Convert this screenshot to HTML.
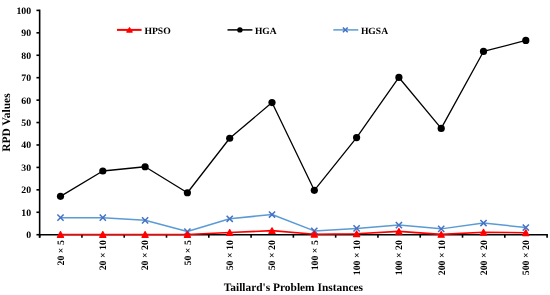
<!DOCTYPE html><html><head><meta charset="utf-8"><style>html,body{margin:0;padding:0;background:#fff;}svg{display:block;}text{font-family:"Liberation Serif", "Times New Roman", serif;font-weight:bold;fill:#000;text-rendering:geometricPrecision;}</style></head><body>
<svg width="550" height="295" viewBox="0 0 550 295">
<g stroke="#000" stroke-width="1.6" fill="none">
<line x1="39.65" y1="9.60" x2="39.65" y2="237.7"/>
<line x1="38.85" y1="234.7" x2="547.90" y2="234.7"/>
<line x1="36.45" y1="234.70" x2="39.65" y2="234.70"/>
<line x1="36.45" y1="212.27" x2="39.65" y2="212.27"/>
<line x1="36.45" y1="189.84" x2="39.65" y2="189.84"/>
<line x1="36.45" y1="167.41" x2="39.65" y2="167.41"/>
<line x1="36.45" y1="144.98" x2="39.65" y2="144.98"/>
<line x1="36.45" y1="122.55" x2="39.65" y2="122.55"/>
<line x1="36.45" y1="100.12" x2="39.65" y2="100.12"/>
<line x1="36.45" y1="77.69" x2="39.65" y2="77.69"/>
<line x1="36.45" y1="55.26" x2="39.65" y2="55.26"/>
<line x1="36.45" y1="32.83" x2="39.65" y2="32.83"/>
<line x1="36.45" y1="10.40" x2="39.65" y2="10.40"/>
<line x1="39.65" y1="234.7" x2="39.65" y2="237.7"/>
<line x1="81.94" y1="234.7" x2="81.94" y2="237.7"/>
<line x1="124.22" y1="234.7" x2="124.22" y2="237.7"/>
<line x1="166.51" y1="234.7" x2="166.51" y2="237.7"/>
<line x1="208.80" y1="234.7" x2="208.80" y2="237.7"/>
<line x1="251.09" y1="234.7" x2="251.09" y2="237.7"/>
<line x1="293.38" y1="234.7" x2="293.38" y2="237.7"/>
<line x1="335.66" y1="234.7" x2="335.66" y2="237.7"/>
<line x1="377.95" y1="234.7" x2="377.95" y2="237.7"/>
<line x1="420.24" y1="234.7" x2="420.24" y2="237.7"/>
<line x1="462.52" y1="234.7" x2="462.52" y2="237.7"/>
<line x1="504.81" y1="234.7" x2="504.81" y2="237.7"/>
<line x1="547.10" y1="234.7" x2="547.10" y2="237.7"/>
</g>
<text x="31.1" y="238.20" font-size="9.8" text-anchor="end">0</text>
<text x="31.1" y="215.77" font-size="9.8" text-anchor="end">10</text>
<text x="31.1" y="193.34" font-size="9.8" text-anchor="end">20</text>
<text x="31.1" y="170.91" font-size="9.8" text-anchor="end">30</text>
<text x="31.1" y="148.48" font-size="9.8" text-anchor="end">40</text>
<text x="31.1" y="126.05" font-size="9.8" text-anchor="end">50</text>
<text x="31.1" y="103.62" font-size="9.8" text-anchor="end">60</text>
<text x="31.1" y="81.19" font-size="9.8" text-anchor="end">70</text>
<text x="31.1" y="58.76" font-size="9.8" text-anchor="end">80</text>
<text x="31.1" y="36.33" font-size="9.8" text-anchor="end">90</text>
<text x="31.1" y="13.90" font-size="9.8" text-anchor="end">100</text>
<text transform="translate(63.80,240.2) rotate(-90)" font-size="9.8" text-anchor="end">20 × 5</text>
<text transform="translate(106.10,240.2) rotate(-90)" font-size="9.8" text-anchor="end">20 × 10</text>
<text transform="translate(148.40,240.2) rotate(-90)" font-size="9.8" text-anchor="end">20 × 20</text>
<text transform="translate(190.70,240.2) rotate(-90)" font-size="9.8" text-anchor="end">50 × 5</text>
<text transform="translate(233.00,240.2) rotate(-90)" font-size="9.8" text-anchor="end">50 × 10</text>
<text transform="translate(275.30,240.2) rotate(-90)" font-size="9.8" text-anchor="end">50 × 20</text>
<text transform="translate(317.60,240.2) rotate(-90)" font-size="9.8" text-anchor="end">100 × 5</text>
<text transform="translate(359.90,240.2) rotate(-90)" font-size="9.8" text-anchor="end">100 × 10</text>
<text transform="translate(402.20,240.2) rotate(-90)" font-size="9.8" text-anchor="end">100 × 20</text>
<text transform="translate(444.50,240.2) rotate(-90)" font-size="9.8" text-anchor="end">200 × 10</text>
<text transform="translate(486.80,240.2) rotate(-90)" font-size="9.8" text-anchor="end">200 × 20</text>
<text transform="translate(529.10,240.2) rotate(-90)" font-size="9.8" text-anchor="end">500 × 20</text>
<text x="293.4" y="290.6" font-size="11.4" text-anchor="middle">Taillard's Problem Instances</text>
<text transform="translate(10.2,122.6) rotate(-90)" font-size="11.5" text-anchor="middle">RPD Values</text>
<polyline points="60.50,217.65 102.80,217.65 145.10,220.34 187.40,231.56 229.70,218.77 272.00,214.51 314.30,230.89 356.60,228.42 398.90,225.06 441.20,228.87 483.50,223.04 525.80,227.52" fill="none" stroke="#5B9BD5" stroke-width="1.5" stroke-linejoin="round"/>
<path d="M57.40,214.55L63.60,220.75M57.40,220.75L63.60,214.55" stroke="#4472C4" stroke-width="1.5" fill="none"/>
<path d="M99.70,214.55L105.90,220.75M99.70,220.75L105.90,214.55" stroke="#4472C4" stroke-width="1.5" fill="none"/>
<path d="M142.00,217.24L148.20,223.44M142.00,223.44L148.20,217.24" stroke="#4472C4" stroke-width="1.5" fill="none"/>
<path d="M184.30,228.46L190.50,234.66M184.30,234.66L190.50,228.46" stroke="#4472C4" stroke-width="1.5" fill="none"/>
<path d="M226.60,215.67L232.80,221.87M226.60,221.87L232.80,215.67" stroke="#4472C4" stroke-width="1.5" fill="none"/>
<path d="M268.90,211.41L275.10,217.61M268.90,217.61L275.10,211.41" stroke="#4472C4" stroke-width="1.5" fill="none"/>
<path d="M311.20,227.79L317.40,233.99M311.20,233.99L317.40,227.79" stroke="#4472C4" stroke-width="1.5" fill="none"/>
<path d="M353.50,225.32L359.70,231.52M353.50,231.52L359.70,225.32" stroke="#4472C4" stroke-width="1.5" fill="none"/>
<path d="M395.80,221.96L402.00,228.16M395.80,228.16L402.00,221.96" stroke="#4472C4" stroke-width="1.5" fill="none"/>
<path d="M438.10,225.77L444.30,231.97M438.10,231.97L444.30,225.77" stroke="#4472C4" stroke-width="1.5" fill="none"/>
<path d="M480.40,219.94L486.60,226.14M480.40,226.14L486.60,219.94" stroke="#4472C4" stroke-width="1.5" fill="none"/>
<path d="M522.70,224.42L528.90,230.62M522.70,230.62L528.90,224.42" stroke="#4472C4" stroke-width="1.5" fill="none"/>
<polyline points="60.50,196.34 102.80,171.00 145.10,166.74 187.40,192.76 229.70,138.25 272.00,102.59 314.30,190.29 356.60,137.58 398.90,77.47 441.20,128.38 483.50,51.45 525.80,40.46" fill="none" stroke="#000000" stroke-width="1.3" stroke-linejoin="round"/>
<circle cx="60.50" cy="196.34" r="3.6" fill="#000000"/>
<circle cx="102.80" cy="171.00" r="3.6" fill="#000000"/>
<circle cx="145.10" cy="166.74" r="3.6" fill="#000000"/>
<circle cx="187.40" cy="192.76" r="3.6" fill="#000000"/>
<circle cx="229.70" cy="138.25" r="3.6" fill="#000000"/>
<circle cx="272.00" cy="102.59" r="3.6" fill="#000000"/>
<circle cx="314.30" cy="190.29" r="3.6" fill="#000000"/>
<circle cx="356.60" cy="137.58" r="3.6" fill="#000000"/>
<circle cx="398.90" cy="77.47" r="3.6" fill="#000000"/>
<circle cx="441.20" cy="128.38" r="3.6" fill="#000000"/>
<circle cx="483.50" cy="51.45" r="3.6" fill="#000000"/>
<circle cx="525.80" cy="40.46" r="3.6" fill="#000000"/>
<polyline points="60.50,234.48 102.80,234.48 145.10,234.48 187.40,234.48 229.70,232.46 272.00,230.66 314.30,234.25 356.60,233.80 398.90,231.34 441.20,234.36 483.50,232.23 525.80,232.68" fill="none" stroke="#FF0000" stroke-width="1.6" stroke-linejoin="round"/>
<polygon points="60.50,231.63 63.60,237.33 57.40,237.33" fill="#FF0000" stroke="#FF0000" stroke-width="1.2" stroke-linejoin="round"/>
<polygon points="102.80,231.63 105.90,237.33 99.70,237.33" fill="#FF0000" stroke="#FF0000" stroke-width="1.2" stroke-linejoin="round"/>
<polygon points="145.10,231.63 148.20,237.33 142.00,237.33" fill="#FF0000" stroke="#FF0000" stroke-width="1.2" stroke-linejoin="round"/>
<polygon points="187.40,231.63 190.50,237.33 184.30,237.33" fill="#FF0000" stroke="#FF0000" stroke-width="1.2" stroke-linejoin="round"/>
<polygon points="229.70,229.61 232.80,235.31 226.60,235.31" fill="#FF0000" stroke="#FF0000" stroke-width="1.2" stroke-linejoin="round"/>
<polygon points="272.00,227.81 275.10,233.51 268.90,233.51" fill="#FF0000" stroke="#FF0000" stroke-width="1.2" stroke-linejoin="round"/>
<polygon points="314.30,231.40 317.40,237.10 311.20,237.10" fill="#FF0000" stroke="#FF0000" stroke-width="1.2" stroke-linejoin="round"/>
<polygon points="356.60,230.95 359.70,236.65 353.50,236.65" fill="#FF0000" stroke="#FF0000" stroke-width="1.2" stroke-linejoin="round"/>
<polygon points="398.90,228.49 402.00,234.19 395.80,234.19" fill="#FF0000" stroke="#FF0000" stroke-width="1.2" stroke-linejoin="round"/>
<polygon points="441.20,231.51 444.30,237.21 438.10,237.21" fill="#FF0000" stroke="#FF0000" stroke-width="1.2" stroke-linejoin="round"/>
<polygon points="483.50,229.38 486.60,235.08 480.40,235.08" fill="#FF0000" stroke="#FF0000" stroke-width="1.2" stroke-linejoin="round"/>
<polygon points="525.80,229.83 528.90,235.53 522.70,235.53" fill="#FF0000" stroke="#FF0000" stroke-width="1.2" stroke-linejoin="round"/>
<line x1="117" y1="29.9" x2="141.6" y2="29.9" stroke="#FF0000" stroke-width="2"/>
<polygon points="129.50,27.70 132.20,32.10 126.80,32.10" fill="#FF0000" stroke="#FF0000" stroke-width="1.2" stroke-linejoin="round"/>
<text x="144.4" y="34.3" font-size="9.7">HPSO</text>
<line x1="227.5" y1="29.9" x2="252.4" y2="29.9" stroke="#000000" stroke-width="1.5"/>
<circle cx="239.90" cy="29.90" r="2.7" fill="#000000"/>
<text x="254.9" y="34.3" font-size="9.5">HGA</text>
<line x1="333.3" y1="29.9" x2="358.3" y2="29.9" stroke="#5B9BD5" stroke-width="1.5"/>
<path d="M342.90,27.50L347.70,32.30M342.90,32.30L347.70,27.50" stroke="#4472C4" stroke-width="1.5" fill="none"/>
<text x="360.9" y="34.3" font-size="9.6">HGSA</text>
</svg></body></html>
